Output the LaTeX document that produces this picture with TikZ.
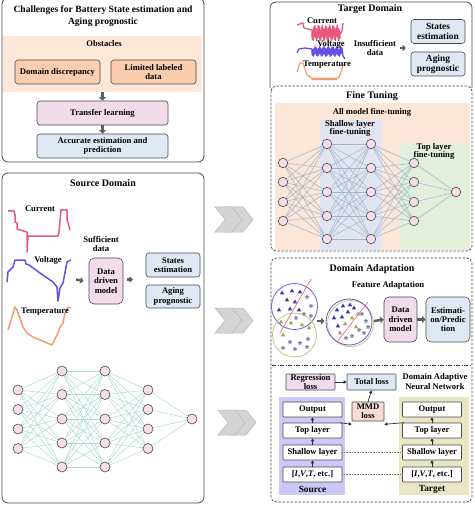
\documentclass[tikz,border=0pt]{standalone}
\usepackage{fontspec}
\setmainfont{Liberation Serif}
\usetikzlibrary{arrows.meta,shapes.geometric}
\pgfdeclarelayer{bg}\pgfdeclarelayer{edges}
\pgfsetlayers{bg,edges,main}
\definecolor{bd}{HTML}{4A4A4A}
\definecolor{obsbg}{HTML}{FCE7D8}
\definecolor{obsbox}{HTML}{F9CDAE}
\definecolor{pinkf}{HTML}{F3DCEA}
\definecolor{bluef}{HTML}{DFE9F6}
\definecolor{arw}{HTML}{5E5E5E}
\definecolor{nnfill}{HTML}{F6DDEA}
\definecolor{sedgec}{HTML}{A9DCD2}
\definecolor{fedgec}{HTML}{9DB6CE}
\definecolor{ftbg}{HTML}{FBE6D8}
\definecolor{shbg}{HTML}{E3E4F1}
\definecolor{topbg}{HTML}{E3EFDB}
\definecolor{srcbg}{HTML}{CCC8F7}
\definecolor{tgtbg}{HTML}{E8E6C5}
\definecolor{mmdf}{HTML}{F9DDD3}
\definecolor{curr}{HTML}{E8587A}
\definecolor{volt}{HTML}{6A4CE6}
\definecolor{temp}{HTML}{F39A6F}
\definecolor{dblue}{HTML}{3B3BA6}
\definecolor{dgreen}{HTML}{A3A85A}
\definecolor{dstar}{HTML}{8A86B8}
\definecolor{cgreen}{HTML}{C3C674}
\definecolor{cblue}{HTML}{6B5CD8}
\definecolor{navy}{HTML}{1F2A44}
\begin{document}
\begin{tikzpicture}[x=1pt,y=-1pt,
  lbl/.style={font=\bfseries\fontsize{8.6}{9.4}\selectfont, align=center, inner sep=0pt},
  ttl/.style={font=\bfseries\fontsize{10}{12}\selectfont, align=center, inner sep=0pt},
  box/.style={draw=bd, rounded corners=3pt, align=center, inner sep=1pt, line width=0.6pt,
     font=\bfseries\fontsize{8.6}{9.4}\selectfont},
  sbox/.style={draw=bd, fill=white, rounded corners=0.8pt, align=center, inner sep=0pt, line width=0.6pt,
     minimum height=15pt, font=\bfseries\fontsize{8.6}{9.4}\selectfont},
  panel/.style={draw=bd, line width=0.8pt, rounded corners=6pt},
  dpanel/.style={draw=bd, line width=0.7pt, rounded corners=5pt, dash pattern=on 2.5pt off 1.5pt},
  fat/.style={-{Triangle[length=3.5pt,width=6.5pt]}, line width=2.4pt, draw=arw},
  nn/.style={circle, draw=bd, fill=nnfill, minimum size=10pt, inner sep=0pt, line width=0.6pt},
  sedge/.style={draw=sedgec, line width=0.5pt},
  fedge/.style={draw=fedgec, line width=0.5pt},
  chev/.style={fill=black!17, draw=black!28, line width=0.5pt},
  darr/.style={-{Triangle[length=3pt,width=3.2pt]}, line width=0.7pt, draw=navy},
  sig/.style={line width=1.5pt, line join=round},
  btri/.style={regular polygon, regular polygon sides=3, inner sep=0pt, minimum size=5pt, fill=dblue},
  gtri/.style={regular polygon, regular polygon sides=3, inner sep=0pt, minimum size=5pt, fill=dgreen},
  gstar/.style={star, star points=5, inner sep=0pt, minimum size=4.5pt, fill=dstar}
]
\useasboundingbox (0,0) rectangle (474,518);

% ================= Challenges panel =================
\draw[panel] (2,-2) rectangle (204,162);
\node[ttl, font=\bfseries\fontsize{9.6}{12}\selectfont] (chtitle) at (103,16) {Challenges for Battery State estimation and\\Aging prognostic};
\node[fill=obsbg, minimum width=199pt, minimum height=56pt, inner sep=0pt] (obs) at (102.5,64) {};
\node[lbl] (obstxt) at (104,44) {Obstacles};
\node[box, fill=obsbox, minimum width=85pt, minimum height=24pt] (dd) at (57.5,72) {Domain discrepancy};
\node[box, fill=obsbox, minimum width=85pt, minimum height=24pt] (ld) at (153.5,72) {Limited labeled\\data};
\node[box, fill=pinkf, minimum width=131pt, minimum height=24pt] (tl) at (102.5,113) {Transfer learning};
\node[box, fill=bluef, minimum width=131pt, minimum height=24pt] (acc) at (102.5,146) {Accurate estimation and\\prediction};
\draw[fat] (obs.south) -- (tl.north);
\draw[fat] (tl.south) -- (acc.north);

% ================= Source domain panel =================
\draw[panel] (2,173) rectangle (204,503);
\node[ttl] (srctitle) at (103,183) {Source Domain};
\draw[sig, curr] (8,211)--(14,211)--(15,215)--(15,222)--(17,223)--(17,229)--(27,232)--(27,252)--(28,236)--(58,236)--(59,232)--(61,210)--(67,210)--(67,220)--(68,222)--(70,230);
\draw[sig, volt] (7,282)--(8,272)--(13,267)--(15,260)--(25,260)--(26,264)--(29,265)--(40,273)--(53,282)--(57,287)--(58,301)--(60,288)--(63,283)--(67,262)--(71,260);
\draw[sig, temp] (8,330)--(12,317)--(15,307)--(17,310)--(23,327)--(27,333)--(33,337)--(52,345)--(53,343)--(58,333)--(60,327)--(63,323)--(65,313)--(67,310)--(68,307)--(71,308);
\node[lbl] (lcur) at (40,209) {Current};
\node[lbl] (lvol) at (48,260) {Voltage};
\node[lbl] (ltem) at (45,312) {Temperature};
\node[lbl] (suff) at (101,244) {Sufficient\\data};
\coordinate (sigs) at (76,279.5);
\node[box, fill=pinkf, minimum width=34pt, minimum height=46pt, rounded corners=5pt] (sdm) at (106,281) {Data\\driven\\model};
\node[box, fill=bluef, minimum width=54pt, minimum height=24pt] (sst) at (173,265) {States\\estimation};
\node[box, fill=bluef, minimum width=54pt, minimum height=23pt] (sag) at (173,296.5) {Aging\\prognostic};
\draw[fat] (sigs) -- ([xshift=-5pt]sdm.west);
\coordinate (sout) at (140,279.5);
\draw[fat, shorten <=4pt] (sdm.east |- sout) -- ([xshift=-7pt]sout);

% source neural net
\foreach \i/\y in {1/390,2/409.5,3/429,4/448.5} {
  \node[nn] (sa\i) at (18,\y) {};
  \node[nn] (sd\i) at (148,\y) {};
}
\foreach \i/\y in {1/371,2/394.5,3/419,4/443,5/467} {
  \node[nn] (sb\i) at (62,\y) {};
  \node[nn] (sc\i) at (105,\y) {};
}
\node[nn] (se1) at (192,419) {};
\begin{pgfonlayer}{edges}
\foreach \i in {1,...,4} \foreach \j in {1,...,5} \draw[sedge] (sa\i) -- (sb\j);
\foreach \i in {1,...,5} \foreach \j in {1,...,5} \draw[sedge] (sb\i) -- (sc\j);
\foreach \i in {1,...,5} \foreach \j in {1,...,4} \draw[sedge] (sc\i) -- (sd\j);
\foreach \i in {1,...,4} \draw[sedge] (sd\i) -- (se1);
\end{pgfonlayer}

% ================= chevrons =================
\foreach \x/\y in {215/207, 215/308, 218/410} {
  \foreach \d in {11,0} {
    \filldraw[chev] (\x+\d,\y) -- ++(17,0) -- ++(10,12.5) -- ++(-10,12.5) -- ++(-17,0) -- ++(10,-12.5) -- cycle;
  }
}

% ================= Target domain =================
\draw[panel] (270,88) -- (270,2) -- (472,2) -- (472,88);
\node[ttl] (tgttitle) at (370,9.5) {Target Domain};
\draw[sig, curr, line width=1.3pt] (297,25)--(303,23)--(304,28)--(312,30)
  -- plot[domain=0:28, samples=170] ({312+\x},{33+5.5*sin(\x*340)+2.5*sin(\x*97)})
  -- (342,31) -- (343,23);
\draw[sig, volt, line width=1.3pt] (297,53)--(299,49)--(305,48)--(312,49)
  -- plot[domain=0:30, samples=160] ({312+\x},{51.5+3.5*sin(\x*320)+1.5*sin(\x*83)})
  -- (343,56) -- (345,59);
\draw[sig, temp, line width=1.2pt] (297,72)--(300,63)--(303,63)--(307,75)--(312,78)
  -- plot[domain=0:25, samples=60] ({312+\x},{79+0.9*sin(\x*240)})
  -- (339,77)--(341,72)--(343,65)--(345,64);
\node[lbl] (tcur) at (322,21) {Current};
\node[lbl] (tvol) at (331,44) {Voltage};
\node[lbl] (ttem) at (327,65) {Temperature};
\node[lbl] (insuff) at (375,48) {Insufficient\\data};
\node[box, fill=bluef, minimum width=54pt, minimum height=24pt, font=\bfseries\fontsize{9.4}{10.4}\selectfont] (tst) at (438,31.5) {States\\estimation};
\node[box, fill=bluef, minimum width=54pt, minimum height=24pt, font=\bfseries\fontsize{9.4}{10.4}\selectfont] (tag) at (438,64) {Aging\\prognostic};
\coordinate (tout) at (411,48);
\draw[fat, shorten <=4pt] (insuff.east |- tout) -- ([xshift=-5pt]tout);

% ================= Fine tuning =================
\begin{pgfonlayer}{bg}
\fill[ftbg] (275,103) rectangle (470,250);
\fill[shbg] (320,120) rectangle (382,250);
\fill[topbg] (400,143) rectangle (470,250);
\end{pgfonlayer}
\draw[dpanel] (271,86) rectangle (472,251);
\node[ttl] (fttitle) at (372,96) {Fine Tuning};
\node[lbl] (allft) at (372,112) {All model fine-tuning};
\node[lbl, font=\bfseries\fontsize{8.6}{8}\selectfont] (shft) at (350,128) {Shallow layer\\fine-tuning};
\node[lbl, font=\bfseries\fontsize{8.6}{8}\selectfont] (topft) at (434,151.5) {Top layer\\fine-tuning};
\foreach \i/\y in {1/163,2/182,3/202,4/221} {
  \node[nn, minimum size=9.5pt] (fa\i) at (283,\y) {};
  \node[nn, minimum size=9.5pt] (fd\i) at (414,\y) {};
}
\foreach \i/\y in {1/144,2/168,3/192,4/216,5/239} {
  \node[nn, minimum size=9.5pt] (fb\i) at (327,\y) {};
  \node[nn, minimum size=9.5pt] (fc\i) at (371,\y) {};
}
\node[nn, minimum size=9.5pt] (fe1) at (456,192) {};
\begin{pgfonlayer}{edges}
\foreach \i in {1,...,4} \foreach \j in {1,...,5} \draw[fedge] (fa\i) -- (fb\j);
\foreach \i in {1,...,5} \foreach \j in {1,...,5} \draw[fedge] (fb\i) -- (fc\j);
\foreach \i in {1,...,5} \foreach \j in {1,...,4} \draw[fedge] (fc\i) -- (fd\j);
\foreach \i in {1,...,4} \draw[fedge] (fd\i) -- (fe1);
\end{pgfonlayer}

% ================= Domain adaptation =================
\draw[dpanel] (271,258) rectangle (472,502);
\draw[bd, line width=0.6pt, dash pattern=on 4pt off 1.5pt on 1pt off 1.5pt] (272,365) -- (471,365);
\node[ttl] (datitle) at (372,269) {Domain Adaptation};
\node[lbl] (fatxt) at (388,285) {Feature Adaptation};
% separated circles
\draw[cblue, line width=0.8pt] (294.5,306.5) circle (23);
\draw[cgreen, line width=0.8pt] (294.5,335) circle (22);
\draw[curr, line width=0.6pt] (280,333) -- (311,279);
\foreach \p in {(282,293),(292,291),(300,292),(287,300),(295,302),(279,310),(290,309),(299,310)} \node[btri] at \p {};
\foreach \p in {(307,297),(311,306),(304,314),(296,318),(311,316)} \node[gstar] at \p {};
\foreach \p in {(281,322),(291,323),(302,325),(283,335),(309,328)} \node[gtri] at \p {};
\foreach \p in {(290,342),(300,343),(283,348),(295,349),(307,347),(308,339)} \node[gstar] at \p {};
% merged circles
\draw[cgreen, line width=0.8pt] (350.5,323.5) circle (23);
\draw[cblue, line width=0.8pt] (349,322) circle (23);
\draw[curr, line width=0.6pt] (337,342) -- (368,302);
\foreach \p in {(337,310),(343,306),(350,305),(334,318),(342,317),(348,312),(354,308),(338,326)} \node[btri] at \p {};
\foreach \p in {(345,324),(352,318),(340,333),(358,314),(356,327)} \node[gtri] at \p {};
\foreach \p in {(362,314),(366,321),(359,330),(364,333),(352,336),(346,338),(368,327)} \node[gstar] at \p {};
\coordinate (c1e) at (317,321);
\coordinate (c2e) at (374,321);
\node[box, fill=pinkf, minimum width=33pt, minimum height=45pt, rounded corners=5pt] (ddm) at (400.5,319.5) {Data\\driven\\model};
\node[box, fill=bluef, minimum width=44pt, minimum height=45pt, rounded corners=5pt] (est) at (448,319.5) {Estimati-\\on/Predic\\tion};
\draw[fat] (c1e) -- ++(7.5,0);
\draw[fat] (c2e) -- (ddm.west);
\draw[fat] (ddm.east) -- (est.west);

% DANN
\begin{pgfonlayer}{bg}
\fill[srcbg] (279,397) rectangle (345,495);
\fill[tgtbg] (399,397) rectangle (469,495);
\end{pgfonlayer}
\node[sbox, fill=pinkf, minimum width=49pt, minimum height=16pt, font=\bfseries\fontsize{8.6}{7.8}\selectfont] (reg) at (310.5,382) {Regression\\loss};
\node[sbox, fill=bluef, minimum width=49pt, minimum height=16pt] (tot) at (371.5,382) {Total loss};
\node[lbl] (dann) at (435,381.5) {Domain Adaptive\\Neural Network};
\node[sbox, fill=mmdf, minimum width=32pt, minimum height=19pt, font=\bfseries\fontsize{8.6}{8.6}\selectfont] (mmd) at (368,411.5) {MMD\\loss};
\foreach \s/\cx in {s/312.5, t/432} {
  \node[sbox, minimum width=59pt] (\s out) at (\cx,409.5) {Output};
  \node[sbox, minimum width=59pt] (\s top) at (\cx,430.5) {Top layer};
  \node[sbox, minimum width=59pt] (\s sh) at (\cx,452.5) {Shallow layer};
  \node[sbox, minimum width=59pt] (\s in) at (\cx,474.5) {[\textit{I},\textit{V},\textit{T}, etc.]};
  \draw[darr] (\s in.north) -- (\s sh.south);
  \draw[darr] (\s sh.north) -- (\s top.south);
  \draw[darr] (\s top.north) -- (\s out.south);
}
\node[lbl, font=\bfseries\fontsize{9.4}{10}\selectfont] (srclbl) at (312.5,489) {Source};
\node[lbl, font=\bfseries\fontsize{9.4}{10}\selectfont] (tgtlbl) at (432,489) {Target};
\draw[darr] (reg.east) -- (tot.west);
\draw[darr] (mmd.north) -- (tot.south);
\draw[darr] ([xshift=-2pt]stop.north east) -- ([yshift=-3pt]mmd.south west);
\draw[darr] ([xshift=2pt]ttop.north west) -- ([yshift=-3pt]mmd.south east);
\draw[black!55, line width=0.6pt, densely dotted] (ssh.east) -- (tsh.west);
\draw[black!55, line width=0.6pt, densely dotted] (sin.east) -- (tin.west);
\end{tikzpicture}
\end{document}
